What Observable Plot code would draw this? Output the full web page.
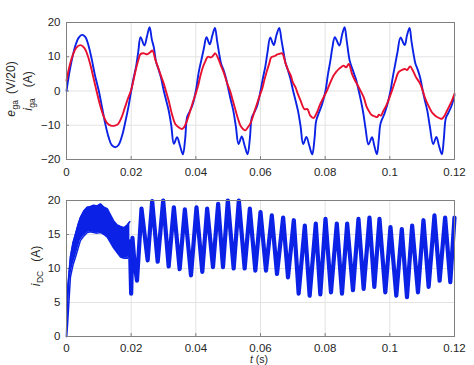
<!DOCTYPE html>
<html><head><meta charset="utf-8">
<script src="https://cdn.jsdelivr.net/npm/d3@7"></script>
<script src="https://cdn.jsdelivr.net/npm/@observablehq/plot@0.6"></script>
<style>
html,body{margin:0;padding:0;background:#fff;}
body{width:474px;height:365px;overflow:hidden;font-family:"Liberation Sans",Arial,sans-serif;}
svg{display:block;overflow:visible;}
</style></head><body><div id="chart"></div>
<script>
// ---- axes ----
const xTicks = [0, 0.02, 0.04, 0.06, 0.08, 0.1, 0.12];
const xTickLabels = ["0", "0.02", "0.04", "0.06", "0.08", "0.1", "0.12"];
const topYTicks = [-20, -10, 0, 10, 20];
const bottomYTicks = [0, 5, 10, 15, 20];
const xLabel = ["t", " (s)"];
const topLabel1 = ["e", "ga", "(V/20)"];
const topLabel2 = ["i", "ga", "(A)"];
const bottomLabel = ["i", "DC", "(A)"];

// ---- top panel: e_ga/20 (blue) [t, value] ----
const egaPoints = [
  [0,0],[0.0006,3.8],[0.0012,7],[0.002,10.6],[0.0028,13.4],[0.0038,15.6],[0.0048,16.4],[0.0058,15.8],[0.0068,13.3],[0.0078,9.3],[0.0088,4.6],[0.0100,0],[0.0110,-4.8],[0.0120,-9.6],[0.0130,-13.4],[0.0140,-15.8],[0.0152,-16.4],[0.0162,-15.6],[0.0172,-13],[0.0182,-9],[0.0192,-4.4],[0.0200,0],
  [0.0208,4],[0.0215,7],[0.0222,11.5],[0.0229,15.7],[0.0241,13.3],[0.0249,16],[0.0257,18.6],[0.0264,15],[0.0270,12.8],[0.0277,8.5],[0.0284,6.5],[0.0292,4],[0.0301,0],[0.0309,-3],[0.0316,-5.7],[0.0324,-10],[0.0332,-15.4],[0.0342,-13.5],[0.0351,-16],[0.0360,-18.5],[0.0367,-14],[0.0373,-7.6],[0.0381,-6],[0.0390,-4],[0.0400,0],
  [0.0409,5.5],[0.0417,9],[0.0425,12.5],[0.0433,15.7],[0.0443,13.6],[0.0451,16.2],[0.0459,18.4],[0.0466,14.5],[0.0472,11],[0.0478,8],[0.0485,6.3],[0.0493,3.8],[0.0502,0],[0.0509,-3],[0.0516,-5.8],[0.0524,-10.5],[0.0532,-15.5],[0.0542,-13.3],[0.0551,-16],[0.0560,-18.5],[0.0567,-14],[0.0573,-7.8],[0.0581,-6.2],[0.0590,-4.2],[0.0600,0],
  [0.0608,4],[0.0615,7.2],[0.0622,11.5],[0.0630,15.6],[0.0641,13.4],[0.0649,16.2],[0.0658,18.4],[0.0665,14.8],[0.0671,11.5],[0.0677,8.3],[0.0684,6.3],[0.0692,3.8],[0.0701,0],[0.0709,-3],[0.0716,-5.8],[0.0724,-10.3],[0.0732,-15.5],[0.0742,-13.4],[0.0751,-16],[0.0760,-18.5],[0.0767,-14],[0.0772,-8.8],[0.0780,-6.5],[0.0790,-4],[0.0801,0],
  [0.0808,4.5],[0.0816,8.8],[0.0822,12.5],[0.0830,15.7],[0.0844,13.3],[0.0852,16.3],[0.0860,18.6],[0.0867,14.5],[0.0876,8.8],[0.0888,5.4],[0.0895,3.5],[0.0904,0],[0.0911,-3],[0.0918,-6.5],[0.0925,-11],[0.0934,-15.6],[0.0945,-13.5],[0.0952,-16],[0.0960,-18.5],[0.0966,-14],[0.0971,-9.6],[0.0983,-6.7],[0.0992,-4],[0.1002,0],
  [0.1009,4],[0.1016,7.5],[0.1024,11.5],[0.1033,15.6],[0.1046,13.4],[0.1053,16.2],[0.1061,18.4],[0.1067,14.5],[0.1073,11],[0.1079,8],[0.1086,6.3],[0.1094,3.8],[0.1102,0],[0.1109,-3],[0.1116,-5.8],[0.1124,-10.5],[0.1134,-15.5],[0.1144,-13.4],[0.1152,-16],[0.1161,-18.5],[0.1167,-14],[0.1173,-8],[0.1181,-6.4],[0.1192,-4],[0.1200,-1.2]
];
// ---- top panel: i_ga (red) [t, value] ----
const igaPoints = [
  [0,3],[0.001,7.5],[0.002,10.6],[0.003,12.6],[0.0043,13.4],[0.0055,12.6],[0.0065,10.5],[0.0075,7.2],[0.0085,3.2],[0.0095,-0.8],[0.0105,-4.5],[0.0115,-7.4],[0.0125,-9.3],[0.0137,-10.1],[0.0150,-10.1],[0.0160,-9.6],[0.0170,-7.8],[0.0180,-5],[0.0190,-2.2],[0.0200,0.3],
  [0.0208,3.5],[0.0215,6.5],[0.0222,9],[0.0229,10.8],[0.0240,11],[0.0249,10.7],[0.0260,11.4],[0.0266,11.8],[0.0275,9.1],[0.0285,6.4],[0.0293,4.2],[0.0301,2.1],[0.0309,-0.5],[0.0316,-2.8],[0.0326,-6.7],[0.0337,-9.7],[0.0347,-10.6],[0.0357,-11.1],[0.0362,-10.8],[0.0373,-8.6],[0.0383,-5.7],[0.0391,-3.2],[0.0399,-1],
  [0.0407,1.5],[0.0414,4.4],[0.0422,7],[0.0430,8.8],[0.0437,10],[0.0447,9.8],[0.0455,10.5],[0.0460,11],[0.0471,9.1],[0.0478,7.3],[0.0486,5.5],[0.0496,2.5],[0.0507,-0.3],[0.0515,-3],[0.0523,-5.7],[0.0531,-8.3],[0.0538,-10.1],[0.0546,-11.1],[0.0553,-11.5],[0.0561,-10.6],[0.0568,-9.6],[0.0574,-8.2],[0.0582,-5.8],[0.0589,-3.8],[0.0597,-1.5],[0.0605,0.6],
  [0.0612,3.2],[0.0620,5.9],[0.0627,8],[0.0633,9.8],[0.0640,10.1],[0.0646,10.3],[0.0652,10.7],[0.0657,10.8],[0.0667,11],[0.0677,8.2],[0.0685,6.2],[0.0693,4.7],[0.0700,2.5],[0.0708,1.1],[0.0716,-1],[0.0724,-2.8],[0.0736,-5.3],[0.0745,-5.3],[0.0754,-7.2],[0.0764,-7.9],[0.0775,-6.2],[0.0783,-4.2],[0.0790,-2.8],[0.0806,0.2],
  [0.0816,2.5],[0.0826,4.5],[0.0834,5.6],[0.0842,6.4],[0.0850,7],[0.0857,7.4],[0.0865,6.9],[0.0873,7.9],[0.0883,5],[0.0890,3.5],[0.0898,2.1],[0.0908,0.3],[0.0919,-1.8],[0.0929,-4.8],[0.0938,-6.3],[0.0945,-7.1],[0.0953,-7.4],[0.0961,-7.6],[0.0966,-6.9],[0.0972,-7.2],[0.0980,-5.8],[0.0991,-3.8],[0.1007,0.2],
  [0.1017,3],[0.1027,5.5],[0.1038,6.2],[0.1048,6.4],[0.1053,6.1],[0.1063,7.2],[0.1070,6.2],[0.1080,4.2],[0.1094,2.1],[0.1102,0],[0.1110,-2.3],[0.1120,-4.4],[0.1130,-6.2],[0.1138,-7],[0.1146,-7.6],[0.1155,-8],[0.1161,-8.1],[0.1169,-7.2],[0.1177,-5.7],[0.1185,-4.2],[0.1192,-2.8],[0.1200,-0.8]
];

// ---- bottom panel: i_DC start-up band (noisy envelope) ----
const idcStartTime = [0, 0.0003, 0.0008, 0.0012, 0.002, 0.0028, 0.0036, 0.0043, 0.0054, 0.0064, 0.0074, 0.0084, 0.0095, 0.0105, 0.0116, 0.0126, 0.0136, 0.0146, 0.0157, 0.0167, 0.0178, 0.0188, 0.0196];
const idcStartHigh = [0, 6.8, 9.5, 11.7, 13.8, 15.1, 16.5, 17.5, 18.5, 19.0, 19.1, 19.3, 19.2, 19.5, 19.0, 18.8, 17.9, 17.0, 16.4, 16.2, 16.0, 16.4, 16.9];
const idcStartLow = [0, 1.5, 5.5, 8.7, 10.5, 11.7, 13.0, 14.1, 14.8, 15.3, 15.4, 15.3, 15.2, 15.3, 15.0, 14.6, 13.8, 13.0, 12.3, 11.7, 11.5, 11.5, 12.0];
// ---- bottom panel: i_DC ripple after 0.02 s [t, value] ----
const idcPoints = [
  [0.0196,14],[0.0200,6.3],[0.0204,14.5],[0.0210,11],[0.0218,8.2],[0.0232,18.8],[0.0251,11.2],[0.0265,19.9],[0.0282,11.0],[0.0299,20.0],[0.0316,10.3],[0.0332,19.0],[0.0350,9.9],[0.0366,18.7],[0.0385,9.0],[0.0402,19.0],[0.0420,9.5],[0.0435,18.8],[0.0453,10.2],[0.0469,19.5],[0.0484,10.2],[0.0499,20.0],[0.0517,10.0],[0.0533,20.0],[0.0551,10.0],[0.0567,18.8],[0.0584,9.7],[0.0600,18.3],[0.0617,9.7],[0.0635,17.8],[0.0651,9.2],[0.0670,17.5],[0.0685,8.7],[0.0703,17.1],[0.0718,6.3],[0.0737,16.3],[0.0752,6.0],[0.0771,16.6],[0.0785,6.2],[0.0801,17.3],[0.0818,6.5],[0.0836,16.6],[0.0852,6.3],[0.0868,16.6],[0.0886,6.8],[0.0903,17.3],[0.0919,7.0],[0.0937,17.5],[0.0952,7.3],[0.0968,17.3],[0.0986,6.5],[0.1002,16.1],[0.1020,6.0],[0.1037,15.8],[0.1053,5.8],[0.1069,16.3],[0.1087,6.5],[0.1104,17.1],[0.1120,7.3],[0.1138,17.8],[0.1154,8.2],[0.1171,17.5],[0.1187,8.0],[0.1200,17.5]
];

// ---- styling ----
const BLUE = "#0b22e6", RED = "#e8102e", GRID = "#e3e3e3", FRAME = "#808080";
const FONT = "'Liberation Sans', Arial, sans-serif";
const fmtX = d => xTickLabels[xTicks.findIndex(v => Math.abs(v - d) < 1e-9)];

function panel({height, marginTop, marginBottom, yDomain, yTicks, xPad, marks}) {
  return Plot.plot({
    width: 474, height, marginLeft: 66, marginRight: 20, marginTop, marginBottom,
    style: {fontFamily: FONT, fontSize: "11.5px", color: "#262626", background: "transparent"},
    x: {domain: [0, 0.12]},
    y: {domain: yDomain},
    marks: [
      Plot.gridX(xTicks, {stroke: GRID, strokeOpacity: 1}),
      Plot.gridY(yTicks, {stroke: GRID, strokeOpacity: 1}),
      Plot.axisX(xTicks, {tickSize: -3, tickPadding: xPad, tickFormat: fmtX, label: null, stroke: FRAME}),
      Plot.axisY(yTicks, {tickSize: -3, tickPadding: 9, label: null, stroke: FRAME}),
      ...marks,
      Plot.frame({stroke: FRAME})
    ]
  });
}

const topSvg = panel({
  height: 180, marginTop: 22, marginBottom: 21, yDomain: [-20, 20], yTicks: topYTicks, xPad: 11,
  marks: [
    Plot.line(egaPoints, {x: d => d[0], y: d => d[1], stroke: BLUE, strokeWidth: 1.9, curve: "catmull-rom"}),
    Plot.line(igaPoints, {x: d => d[0], y: d => d[1], stroke: RED, strokeWidth: 1.9, curve: "catmull-rom"})
  ]
});

const startBand = idcStartTime.map((t, i) => ({t, lo: idcStartLow[i], hi: idcStartHigh[i]}));
const bottomSvg = panel({
  height: 185, marginTop: 20, marginBottom: 29, yDomain: [0, 20], yTicks: bottomYTicks, xPad: 10,
  marks: [
    Plot.areaY(startBand, {x: "t", y1: "lo", y2: "hi", fill: BLUE}),
    Plot.line(startBand, {x: "t", y: "hi", stroke: BLUE, strokeWidth: 1.5}),
    Plot.line(startBand, {x: "t", y: "lo", stroke: BLUE, strokeWidth: 1.5}),
    Plot.line(idcPoints, {x: d => d[0], y: d => d[1], stroke: BLUE, strokeWidth: 4.2, strokeLinejoin: "round"})
  ]
});

function rotLabel(svg, x, y, parts, gap) {
  const text = d3.select(svg).append("text")
    .attr("transform", `translate(${x},${y}) rotate(-90)`)
    .attr("text-anchor", "middle")
    .attr("font-family", FONT).attr("font-size", 12).attr("fill", "#262626");
  text.append("tspan").attr("font-style", "italic").text(parts[0]);
  text.append("tspan").attr("font-size", 8.5).attr("dy", 3).attr("dx", 0.5).text(parts[1]);
  text.append("tspan").attr("dy", -3).attr("dx", gap).text(parts[2]);
}
rotLabel(topSvg, 15, 89, topLabel1, 6);
rotLabel(topSvg, 32, 91, topLabel2, 11);
rotLabel(bottomSvg, 40, 86, bottomLabel, 9);

const xl = d3.select(bottomSvg).append("text")
  .attr("x", 259).attr("y", 183.3).attr("text-anchor", "middle")
  .attr("font-family", FONT).attr("font-size", 10.5).attr("fill", "#262626");
xl.append("tspan").attr("font-style", "italic").text(xLabel[0]);
xl.append("tspan").text(xLabel[1]);

const chart = document.getElementById("chart");
chart.appendChild(topSvg);
chart.appendChild(bottomSvg);
</script>
</body></html>
